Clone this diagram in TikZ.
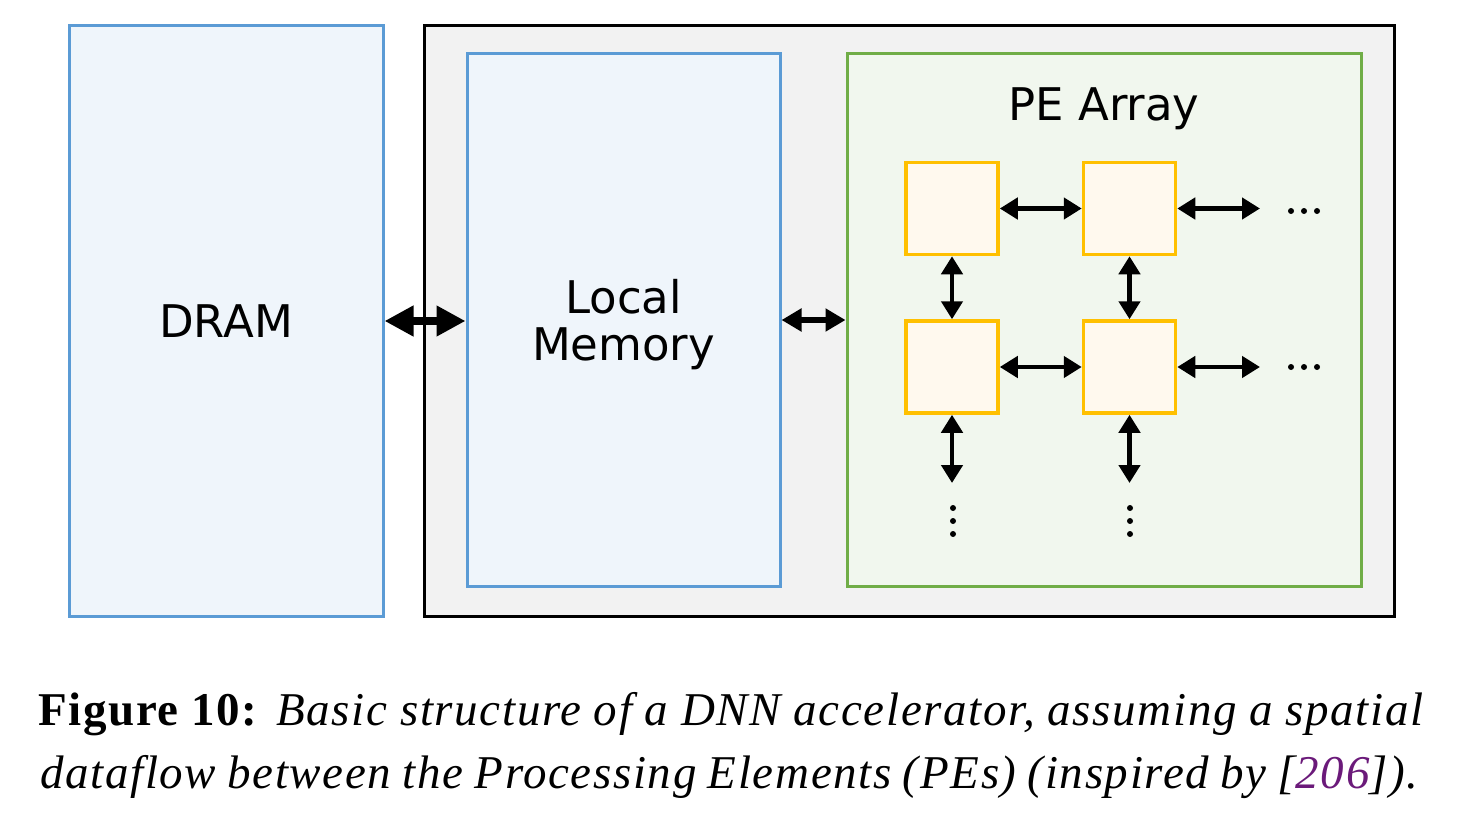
\documentclass[tikz,border=0pt]{standalone}
\usepackage{fontspec}
\setmainfont{Liberation Serif}
\newfontfamily\capfont[LetterSpace=3.5]{Liberation Serif}
\newfontfamily\diagfont{DejaVu Sans}
\usetikzlibrary{arrows.meta}
\definecolor{memblue}{HTML}{5B9BD5}
\definecolor{memfill}{HTML}{EFF5FB}
\definecolor{outerfill}{HTML}{F2F2F2}
\definecolor{pegreen}{HTML}{70AD47}
\definecolor{pefill}{HTML}{F1F7EE}
\definecolor{pegold}{HTML}{FFC000}
\definecolor{pecell}{HTML}{FFF9EE}
\definecolor{citepurple}{HTML}{6B1A7A}
\tikzset{
  membox/.style={draw=memblue, fill=memfill, line width=3pt, rectangle, inner sep=0pt,
    font=\diagfont\fontsize{45}{53}\selectfont, align=center},
  outerbox/.style={draw=black, fill=outerfill, line width=3pt, rectangle, inner sep=0pt},
  arraybox/.style={draw=pegreen, fill=pefill, line width=3pt, rectangle, inner sep=0pt},
  cell/.style={draw=pegold, fill=pecell, line width=3.5pt, rectangle, inner sep=0pt,
    minimum width=92pt, minimum height=92pt},
  label/.style={font=\diagfont\fontsize{45}{53}\selectfont, inner sep=0pt, align=center},
  smallarr/.style={line width=4.5pt, {Triangle[length=18pt,width=21pt]}-{Triangle[length=18pt,width=21pt]}},
  bigarr/.style={line width=8pt, {Triangle[length=29pt,width=29pt]}-{Triangle[length=29pt,width=29pt]}},
  midarr/.style={line width=6.5pt, {Triangle[length=20pt,width=22pt]}-{Triangle[length=20pt,width=22pt]}},
  dot/.style={fill=black, circle, inner sep=0pt, minimum size=6pt},
  captionline/.style={anchor=base west, inner sep=0pt, font=\capfont\fontsize{47}{56}\selectfont}
}
\begin{document}
\begin{tikzpicture}[x=1pt,y=-1pt]
\useasboundingbox (0,0) rectangle (1458,821);
\fill[white] (0,0) rectangle (1458,821);

\node[membox, minimum width=314pt, minimum height=590pt] (dram) at (226,321) {DRAM};
\node[outerbox, minimum width=970pt, minimum height=590pt] (outer) at (909,321) {};
\node[membox, minimum width=313pt, minimum height=532pt] (lm) at (623.5,320) {};
\node[label] (lmtext) at (623.5,325) {Local\\[-6pt]Memory};
\node[arraybox, minimum width=514pt, minimum height=532pt] (pe) at (1104,320) {};
\node[label, anchor=base] (petitle) at (1104,121) {PE Array};

\node[cell] (p11) at (952,208.5) {};
\node[cell] (p12) at (1129.5,208.5) {};
\node[cell] (p21) at (952,367) {};
\node[cell] (p22) at (1129.5,367) {};

\coordinate (r1) at (1260,208.5);
\coordinate (r2) at (1260,367);
\coordinate (b1) at (952,483);
\coordinate (b2) at (1129.5,483);

\draw[bigarr] (dram.east) -- (dram.east -| lm.west);
\draw[midarr] (lm.east) -- (pe.west);

\draw[smallarr] (p11.east) -- (p12.west);
\draw[smallarr] (p21.east) -- (p22.west);
\draw[smallarr] (p11.south) -- (p21.north);
\draw[smallarr] (p12.south) -- (p22.north);
\draw[smallarr] (p12.east) -- (r1);
\draw[smallarr] (p22.east) -- (r2);
\draw[smallarr] (p21.south) -- (b1);
\draw[smallarr] (p22.south) -- (b2);

\foreach \xx in {1291,1304,1317}{
  \node[dot] at (\xx,211) {};
  \node[dot] at (\xx,367) {};
}
\foreach \yy in {508,521,534}{
  \node[dot] at (953,\yy) {};
  \node[dot] at (1130,\yy) {};
}

\node[captionline] (cap1) at (38,725) {\makebox[1387pt][s]{\textbf{Figure 10:} \textit{Basic structure of a DNN accelerator, assuming a spatial}}};
\node[captionline] (cap2) at (40,788) {\makebox[1380pt][s]{\textit{dataflow between the Processing Elements (PEs) (inspired by [\textcolor{citepurple}{206}]).}}};
\end{tikzpicture}
\end{document}
